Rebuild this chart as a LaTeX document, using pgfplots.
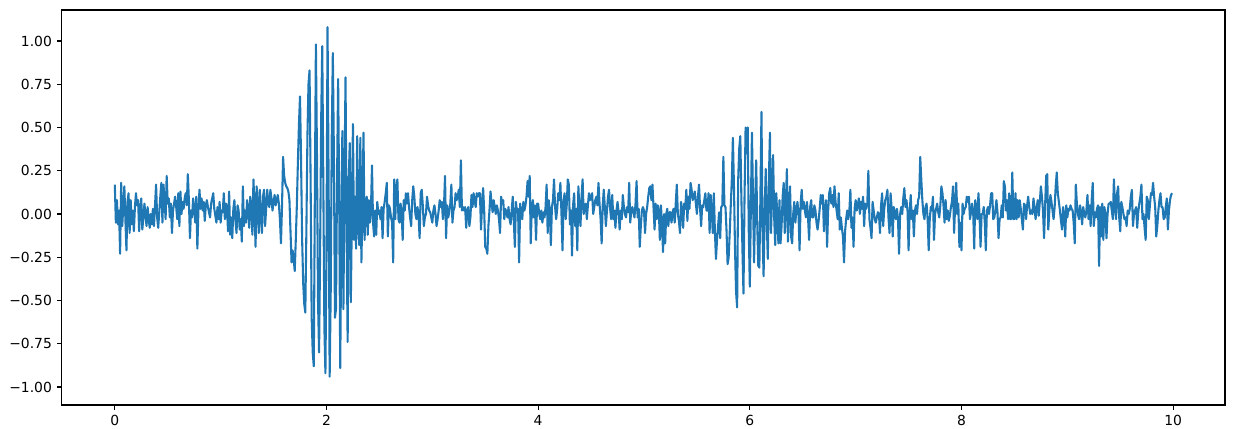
\documentclass[border=0pt]{standalone}
\usepackage{fontspec}
\setmainfont{DejaVu Sans}
\usepackage{pgfplots}
\pgfplotsset{compat=1.18}
\definecolor{mplblue}{RGB}{31,119,180}
\begin{document}
\begin{tikzpicture}
\begin{axis}[
  width=837.4pt, height=284.4pt, scale only axis,
  xmin=-0.4995, xmax=10.4895, ymin=-1.104, ymax=1.179,
  xtick={0,2,4,6,8,10}, xticklabels={0,2,4,6,8,10},
  ytick={-1,-0.75,-0.5,-0.25,0,0.25,0.5,0.75,1},
  yticklabels={−1.00,−0.75,−0.50,−0.25,0.00,0.25,0.50,0.75,1.00},
  tick pos=left, tick align=outside, major tick length=3.5pt,
  line width=0.8pt,
  every tick/.style={black, line width=0.8pt},
  tick label style={font=\fontsize{10}{12}\selectfont},
]
\addplot[mplblue, line width=1.5pt, line join=round, no marks] table[row sep=\\, x expr=\coordindex/100, y index=0] {
y\\
0.17\\ -0.05\\ 0.08\\ -0.06\\ 0.02\\ -0.23\\ 0.18\\ -0.07\\ 0.04\\ 0.16\\ -0.03\\ -0.21\\ 0.07\\ 0.12\\ -0.11\\ 0.08\\ -0.06\\ 0.02\\ -0.10\\ 0.04\\
0.12\\ 0.05\\ 0.08\\ -0.10\\ 0.03\\ 0.09\\ -0.09\\ -0.02\\ 0.06\\ -0.01\\ -0.07\\ 0.04\\ -0.03\\ -0.08\\ 0.00\\ -0.06\\ 0.03\\ -0.07\\ 0.05\\ 0.17\\
-0.02\\ -0.08\\ 0.01\\ 0.10\\ 0.18\\ -0.05\\ 0.17\\ 0.08\\ -0.03\\ 0.22\\ 0.06\\ 0.09\\ -0.02\\ 0.06\\ -0.11\\ 0.02\\ 0.06\\ 0.10\\ 0.04\\ -0.03\\
0.12\\ -0.07\\ 0.13\\ 0.00\\ 0.07\\ 0.03\\ 0.09\\ 0.12\\ 0.05\\ 0.23\\ 0.08\\ -0.14\\ 0.02\\ -0.02\\ 0.09\\ 0.04\\ -0.05\\ 0.10\\ -0.20\\ 0.02\\
0.14\\ 0.03\\ 0.09\\ 0.02\\ 0.07\\ -0.04\\ 0.05\\ 0.08\\ 0.04\\ 0.01\\ -0.02\\ 0.06\\ 0.09\\ 0.12\\ 0.03\\ -0.01\\ -0.05\\ 0.04\\ -0.03\\ 0.07\\
-0.05\\ 0.02\\ 0.01\\ 0.12\\ -0.03\\ 0.06\\ 0.03\\ -0.10\\ 0.13\\ -0.12\\ -0.02\\ -0.14\\ 0.03\\ 0.08\\ -0.04\\ -0.11\\ 0.05\\ 0.02\\ -0.09\\ -0.03\\
-0.16\\ 0.16\\ -0.07\\ 0.02\\ -0.05\\ 0.08\\ 0.03\\ -0.08\\ 0.10\\ 0.05\\ -0.12\\ 0.20\\ 0.04\\ -0.19\\ 0.16\\ 0.05\\ -0.11\\ 0.14\\ -0.02\\ -0.11\\
0.10\\ 0.14\\ -0.07\\ 0.03\\ 0.14\\ 0.06\\ 0.04\\ 0.14\\ 0.09\\ 0.02\\ 0.07\\ 0.11\\ 0.05\\ 0.08\\ 0.11\\ 0.06\\ -0.03\\ -0.17\\ 0.05\\ 0.33\\
0.22\\ 0.18\\ 0.16\\ 0.15\\ 0.13\\ 0.08\\ -0.10\\ -0.28\\ -0.21\\ -0.26\\ -0.33\\ -0.15\\ 0.05\\ 0.30\\ 0.52\\ 0.68\\ 0.30\\ -0.15\\ -0.40\\ -0.52\\
-0.57\\ -0.10\\ 0.45\\ 0.75\\ 0.83\\ 0.20\\ -0.60\\ -0.80\\ -0.88\\ 0.10\\ 0.98\\ 0.35\\ -0.50\\ -0.80\\ -0.20\\ 0.55\\ 0.97\\ 0.20\\ -0.65\\ -0.92\\
-0.20\\ 1.08\\ 0.20\\ -0.94\\ -0.45\\ 0.45\\ 0.93\\ 0.35\\ -0.60\\ -0.55\\ 0.20\\ 0.78\\ 0.10\\ -0.89\\ -0.10\\ 0.48\\ -0.55\\ 0.20\\ 0.79\\ -0.10\\
-0.74\\ 0.20\\ 0.41\\ -0.51\\ 0.00\\ 0.52\\ -0.15\\ 0.10\\ -0.20\\ 0.45\\ -0.05\\ -0.18\\ 0.44\\ -0.28\\ 0.05\\ 0.47\\ -0.15\\ 0.05\\ 0.10\\ -0.12\\
0.08\\ -0.05\\ 0.02\\ 0.28\\ -0.05\\ -0.13\\ 0.02\\ -0.12\\ 0.07\\ 0.00\\ 0.02\\ -0.03\\ 0.04\\ -0.14\\ 0.03\\ 0.07\\ 0.12\\ 0.18\\ -0.13\\ 0.05\\
0.03\\ -0.02\\ -0.05\\ -0.28\\ 0.20\\ -0.03\\ 0.15\\ 0.20\\ -0.03\\ -0.05\\ 0.06\\ 0.01\\ -0.15\\ 0.08\\ 0.02\\ 0.12\\ 0.06\\ 0.12\\ 0.04\\ -0.02\\
-0.07\\ 0.08\\ 0.16\\ 0.10\\ 0.00\\ -0.03\\ 0.04\\ -0.01\\ -0.14\\ 0.12\\ 0.14\\ 0.05\\ -0.07\\ -0.02\\ 0.00\\ 0.10\\ 0.05\\ 0.02\\ 0.01\\ -0.02\\
-0.05\\ 0.02\\ 0.05\\ 0.00\\ -0.07\\ -0.03\\ 0.02\\ 0.08\\ 0.04\\ 0.07\\ -0.03\\ 0.04\\ 0.22\\ -0.14\\ 0.05\\ -0.02\\ 0.01\\ 0.06\\ 0.17\\ -0.05\\
0.02\\ 0.04\\ 0.12\\ 0.08\\ 0.10\\ 0.14\\ 0.04\\ 0.31\\ 0.02\\ 0.04\\ 0.02\\ 0.04\\ -0.08\\ 0.02\\ 0.04\\ -0.07\\ -0.02\\ 0.11\\ 0.04\\ 0.12\\
0.08\\ 0.04\\ 0.12\\ 0.10\\ 0.12\\ 0.12\\ -0.09\\ 0.05\\ 0.15\\ 0.02\\ -0.19\\ -0.20\\ -0.23\\ -0.07\\ 0.02\\ 0.13\\ 0.06\\ 0.01\\ 0.08\\ 0.04\\
0.00\\ 0.05\\ 0.02\\ -0.03\\ -0.11\\ 0.10\\ 0.06\\ 0.08\\ -0.03\\ 0.03\\ 0.01\\ -0.02\\ 0.04\\ -0.03\\ -0.06\\ 0.02\\ 0.10\\ -0.04\\ -0.19\\ 0.07\\
0.01\\ 0.03\\ -0.28\\ 0.06\\ 0.00\\ -0.03\\ 0.07\\ 0.02\\ 0.05\\ 0.10\\ 0.19\\ 0.10\\ 0.22\\ -0.17\\ 0.04\\ 0.08\\ -0.02\\ 0.05\\ -0.15\\ 0.06\\
0.06\\ 0.00\\ -0.03\\ 0.02\\ -0.05\\ 0.01\\ -0.02\\ 0.04\\ 0.17\\ -0.11\\ 0.08\\ 0.02\\ -0.18\\ 0.04\\ 0.08\\ 0.20\\ 0.04\\ -0.03\\ 0.03\\ 0.12\\
0.08\\ 0.18\\ 0.01\\ -0.21\\ 0.08\\ 0.12\\ -0.03\\ 0.05\\ 0.20\\ 0.17\\ -0.06\\ 0.02\\ -0.24\\ 0.05\\ 0.12\\ -0.07\\ 0.03\\ -0.21\\ 0.16\\ 0.02\\
-0.07\\ 0.10\\ 0.20\\ 0.00\\ 0.04\\ 0.06\\ -0.03\\ 0.05\\ 0.12\\ 0.08\\ 0.10\\ 0.12\\ 0.00\\ 0.04\\ 0.08\\ 0.10\\ 0.05\\ 0.18\\ 0.06\\ -0.03\\
-0.17\\ 0.05\\ 0.14\\ 0.04\\ -0.07\\ 0.02\\ 0.10\\ 0.14\\ 0.03\\ -0.03\\ 0.11\\ -0.03\\ 0.02\\ -0.08\\ 0.02\\ 0.07\\ 0.01\\ -0.09\\ 0.02\\ -0.03\\
0.11\\ 0.04\\ 0.00\\ -0.02\\ 0.04\\ 0.01\\ 0.18\\ -0.05\\ 0.02\\ 0.04\\ 0.01\\ -0.02\\ 0.06\\ 0.19\\ -0.02\\ 0.03\\ -0.19\\ -0.07\\ 0.02\\ 0.04\\
0.02\\ -0.11\\ 0.00\\ 0.04\\ 0.10\\ 0.15\\ 0.16\\ 0.08\\ 0.17\\ 0.04\\ -0.09\\ 0.06\\ -0.03\\ 0.05\\ 0.02\\ -0.15\\ 0.05\\ -0.06\\ -0.22\\ 0.00\\
-0.17\\ 0.00\\ 0.03\\ -0.07\\ 0.01\\ 0.01\\ -0.05\\ 0.01\\ 0.03\\ -0.05\\ 0.06\\ 0.17\\ 0.00\\ -0.04\\ -0.11\\ 0.07\\ 0.03\\ -0.08\\ 0.06\\ 0.03\\
0.14\\ -0.04\\ 0.10\\ 0.03\\ 0.18\\ 0.14\\ 0.08\\ 0.10\\ 0.13\\ 0.06\\ 0.00\\ 0.10\\ 0.17\\ 0.03\\ -0.07\\ 0.05\\ 0.04\\ 0.08\\ 0.12\\ 0.02\\
0.02\\ 0.12\\ -0.11\\ 0.11\\ 0.02\\ -0.11\\ 0.12\\ -0.10\\ -0.26\\ -0.15\\ -0.07\\ 0.01\\ -0.14\\ 0.04\\ 0.05\\ 0.33\\ 0.05\\ 0.04\\ -0.10\\ -0.29\\
-0.25\\ -0.11\\ 0.05\\ 0.20\\ 0.44\\ 0.16\\ -0.20\\ -0.45\\ -0.54\\ 0.20\\ 0.38\\ 0.45\\ 0.10\\ -0.20\\ -0.46\\ 0.10\\ 0.50\\ 0.35\\ 0.50\\ -0.10\\
-0.42\\ 0.05\\ 0.47\\ 0.10\\ -0.28\\ 0.05\\ 0.31\\ -0.05\\ -0.30\\ -0.31\\ 0.10\\ 0.59\\ -0.10\\ -0.36\\ 0.00\\ 0.26\\ -0.05\\ -0.26\\ 0.20\\ 0.47\\
-0.11\\ 0.10\\ 0.34\\ -0.02\\ -0.18\\ 0.12\\ -0.02\\ -0.17\\ 0.08\\ -0.17\\ -0.07\\ 0.10\\ 0.18\\ -0.11\\ 0.05\\ 0.26\\ -0.16\\ 0.03\\ 0.16\\ -0.13\\
-0.17\\ 0.00\\ 0.07\\ -0.05\\ 0.02\\ 0.07\\ 0.00\\ -0.21\\ 0.06\\ 0.14\\ 0.03\\ 0.07\\ 0.02\\ -0.02\\ 0.07\\ -0.02\\ -0.15\\ 0.04\\ 0.08\\ -0.02\\
-0.02\\ 0.05\\ 0.02\\ -0.05\\ -0.09\\ -0.04\\ 0.03\\ 0.11\\ 0.06\\ 0.11\\ -0.10\\ 0.03\\ 0.08\\ -0.19\\ 0.02\\ 0.12\\ 0.15\\ 0.06\\ 0.11\\ 0.04\\
0.16\\ 0.07\\ 0.02\\ -0.03\\ 0.12\\ -0.09\\ -0.02\\ -0.08\\ -0.13\\ -0.28\\ -0.10\\ -0.03\\ 0.02\\ -0.03\\ 0.01\\ 0.14\\ -0.08\\ -0.02\\ -0.19\\ 0.03\\
0.08\\ 0.02\\ 0.05\\ 0.09\\ 0.00\\ 0.07\\ 0.03\\ 0.10\\ -0.07\\ 0.06\\ 0.03\\ 0.06\\ 0.25\\ -0.03\\ -0.08\\ -0.14\\ 0.07\\ 0.02\\ -0.03\\ -0.05\\
-0.02\\ 0.01\\ 0.00\\ -0.11\\ 0.05\\ 0.12\\ -0.07\\ 0.03\\ 0.08\\ 0.10\\ 0.14\\ -0.02\\ -0.11\\ 0.12\\ 0.03\\ -0.13\\ 0.04\\ 0.01\\ -0.03\\ 0.03\\
-0.03\\ -0.23\\ 0.00\\ 0.04\\ 0.00\\ 0.09\\ 0.15\\ 0.04\\ 0.08\\ 0.02\\ -0.21\\ 0.00\\ 0.11\\ -0.03\\ 0.02\\ -0.13\\ 0.02\\ 0.05\\ 0.00\\ 0.08\\
0.10\\ 0.33\\ 0.20\\ 0.08\\ 0.00\\ -0.03\\ 0.04\\ 0.06\\ -0.03\\ -0.21\\ -0.03\\ 0.04\\ 0.02\\ 0.10\\ -0.15\\ 0.00\\ 0.03\\ 0.06\\ 0.01\\ -0.02\\
0.05\\ 0.16\\ 0.12\\ 0.05\\ -0.05\\ 0.08\\ -0.03\\ 0.02\\ -0.04\\ -0.01\\ 0.04\\ 0.07\\ 0.16\\ -0.11\\ 0.05\\ 0.18\\ 0.00\\ 0.06\\ -0.19\\ -0.05\\
-0.21\\ 0.06\\ 0.00\\ 0.03\\ 0.04\\ 0.10\\ 0.07\\ 0.10\\ -0.03\\ 0.01\\ 0.06\\ 0.02\\ -0.20\\ 0.08\\ 0.03\\ -0.03\\ 0.12\\ 0.00\\ -0.19\\ 0.00\\
0.00\\ 0.04\\ -0.05\\ -0.21\\ 0.02\\ 0.04\\ 0.00\\ 0.05\\ 0.12\\ 0.12\\ -0.03\\ -0.02\\ 0.02\\ 0.08\\ 0.01\\ -0.14\\ -0.03\\ -0.02\\ 0.05\\ -0.02\\
0.19\\ 0.16\\ 0.02\\ 0.08\\ -0.03\\ 0.12\\ -0.03\\ -0.03\\ 0.24\\ -0.03\\ -0.03\\ 0.12\\ -0.03\\ 0.08\\ -0.02\\ 0.08\\ 0.03\\ -0.03\\ -0.09\\ 0.06\\
0.05\\ -0.03\\ 0.05\\ 0.10\\ 0.04\\ 0.00\\ 0.02\\ 0.00\\ 0.09\\ 0.04\\ -0.03\\ 0.03\\ 0.08\\ -0.01\\ 0.07\\ 0.16\\ 0.10\\ 0.02\\ -0.14\\ 0.05\\
0.22\\ 0.23\\ -0.09\\ 0.02\\ 0.11\\ 0.07\\ 0.02\\ -0.03\\ 0.04\\ 0.16\\ 0.24\\ 0.12\\ 0.07\\ 0.02\\ -0.04\\ -0.09\\ 0.04\\ 0.00\\ -0.13\\ 0.05\\
-0.02\\ 0.03\\ 0.02\\ 0.05\\ 0.03\\ 0.02\\ -0.05\\ -0.17\\ 0.17\\ 0.06\\ 0.00\\ -0.03\\ 0.05\\ 0.01\\ -0.06\\ 0.04\\ 0.00\\ -0.02\\ 0.02\\ 0.11\\
-0.03\\ 0.05\\ -0.07\\ 0.08\\ 0.18\\ -0.07\\ 0.01\\ -0.02\\ 0.03\\ 0.05\\ -0.30\\ 0.04\\ -0.13\\ 0.06\\ -0.15\\ 0.04\\ 0.00\\ -0.14\\ 0.00\\ 0.06\\
0.06\\ 0.07\\ 0.02\\ -0.03\\ 0.20\\ 0.05\\ -0.03\\ 0.12\\ 0.16\\ -0.02\\ -0.10\\ 0.07\\ 0.04\\ 0.00\\ -0.03\\ -0.02\\ -0.07\\ 0.02\\ 0.00\\ 0.03\\
0.10\\ 0.14\\ -0.07\\ 0.00\\ 0.02\\ 0.04\\ -0.08\\ 0.01\\ 0.06\\ 0.10\\ 0.17\\ -0.03\\ 0.00\\ -0.08\\ -0.15\\ 0.10\\ 0.08\\ -0.03\\ 0.05\\ 0.12\\
0.11\\ 0.18\\ 0.10\\ 0.04\\ -0.13\\ -0.07\\ 0.02\\ 0.08\\ 0.12\\ 0.04\\ 0.04\\ -0.03\\ -0.02\\ 0.04\\ 0.09\\ -0.09\\ 0.02\\ 0.08\\ 0.11\\ 0.12\\
};
\end{axis}
\pgfresetboundingbox
\path[use as bounding box] ([xshift=-44.6pt,yshift=-16.6pt]current axis.south west) rectangle ([xshift=6.5pt,yshift=7.2pt]current axis.north east);
\end{tikzpicture}
\end{document}
